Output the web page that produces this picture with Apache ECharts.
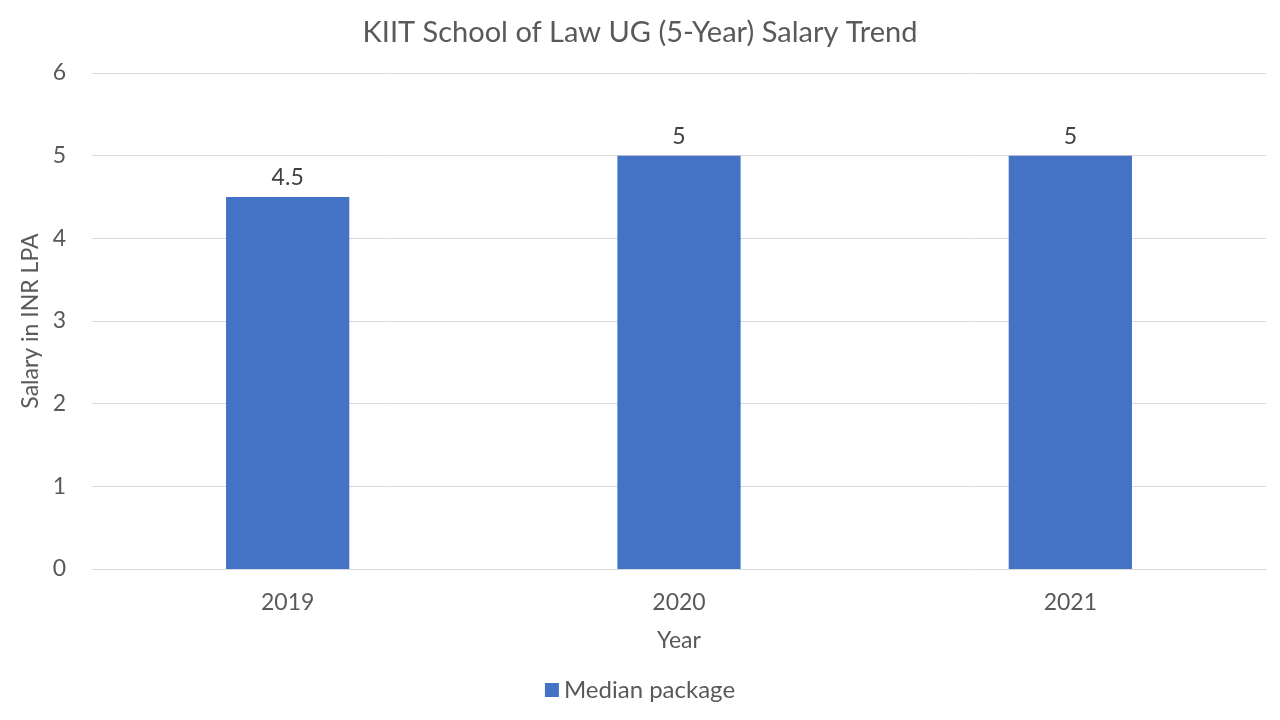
<!DOCTYPE html>
<html>
<head>
<meta charset="utf-8">
<title>KIIT School of Law UG Salary Trend</title>
<script src="https://cdn.jsdelivr.net/npm/echarts@6/dist/echarts.min.js"></script>
<style>
  html, body { margin: 0; padding: 0; background: #ffffff; }
  #chart { width: 1280px; height: 720px; }
</style>
</head>
<body>
<div id="chart"></div>
<script>
var years = ['2019', '2020', '2021'];
var medianPackage = [4.5, 5, 5];
var yTicks = [0, 1, 2, 3, 4, 5, 6];

var textColor = '#595959';
var font = 'Lato, "Open Sans", sans-serif';

var chart = echarts.init(document.getElementById('chart'));

var option = {
  backgroundColor: '#ffffff',
  textStyle: { fontFamily: font, color: textColor },
  title: {
    text: 'KIIT School of Law UG (5-Year) Salary Trend',
    left: 'center',
    top: 13,
    textStyle: { fontFamily: font, fontSize: 29, fontWeight: 'normal', color: textColor }
  },
  legend: {
    data: ['Median package'],
    bottom: 13,
    left: 'center',
    icon: 'rect',
    itemWidth: 14,
    itemHeight: 14,
    itemGap: 8,
    textStyle: { fontFamily: font, fontSize: 24, color: textColor }
  },
  grid: { left: 92, right: 14, top: 73, bottom: 151, containLabel: false },
  xAxis: {
    type: 'category',
    data: years,
    name: 'Year',
    nameLocation: 'middle',
    nameGap: 60,
    nameTextStyle: { fontFamily: font, fontSize: 23, color: textColor },
    axisLine: { show: true, lineStyle: { color: '#D9D9D9', width: 1 } },
    axisTick: { show: false },
    axisLabel: { fontFamily: font, fontSize: 23, color: textColor, margin: 22 }
  },
  yAxis: {
    type: 'value',
    min: yTicks[0],
    max: yTicks[yTicks.length - 1],
    interval: 1,
    name: 'Salary in INR LPA',
    nameLocation: 'middle',
    nameGap: 50,
    nameTextStyle: { fontFamily: font, fontSize: 23, color: textColor },
    axisLine: { show: false },
    axisTick: { show: false },
    axisLabel: { fontFamily: font, fontSize: 23, color: textColor, margin: 26 },
    splitLine: { show: true, lineStyle: { color: '#D9D9D9', width: 1 } }
  },
  series: [{
    name: 'Median package',
    type: 'bar',
    data: medianPackage,
    barWidth: '31.5%',
    itemStyle: { color: '#4472C4' },
    label: {
      show: true,
      position: 'top',
      distance: 8,
      fontFamily: font,
      fontSize: 23,
      color: '#404040'
    }
  }]
};

chart.setOption(option);
</script>
</body>
</html>
